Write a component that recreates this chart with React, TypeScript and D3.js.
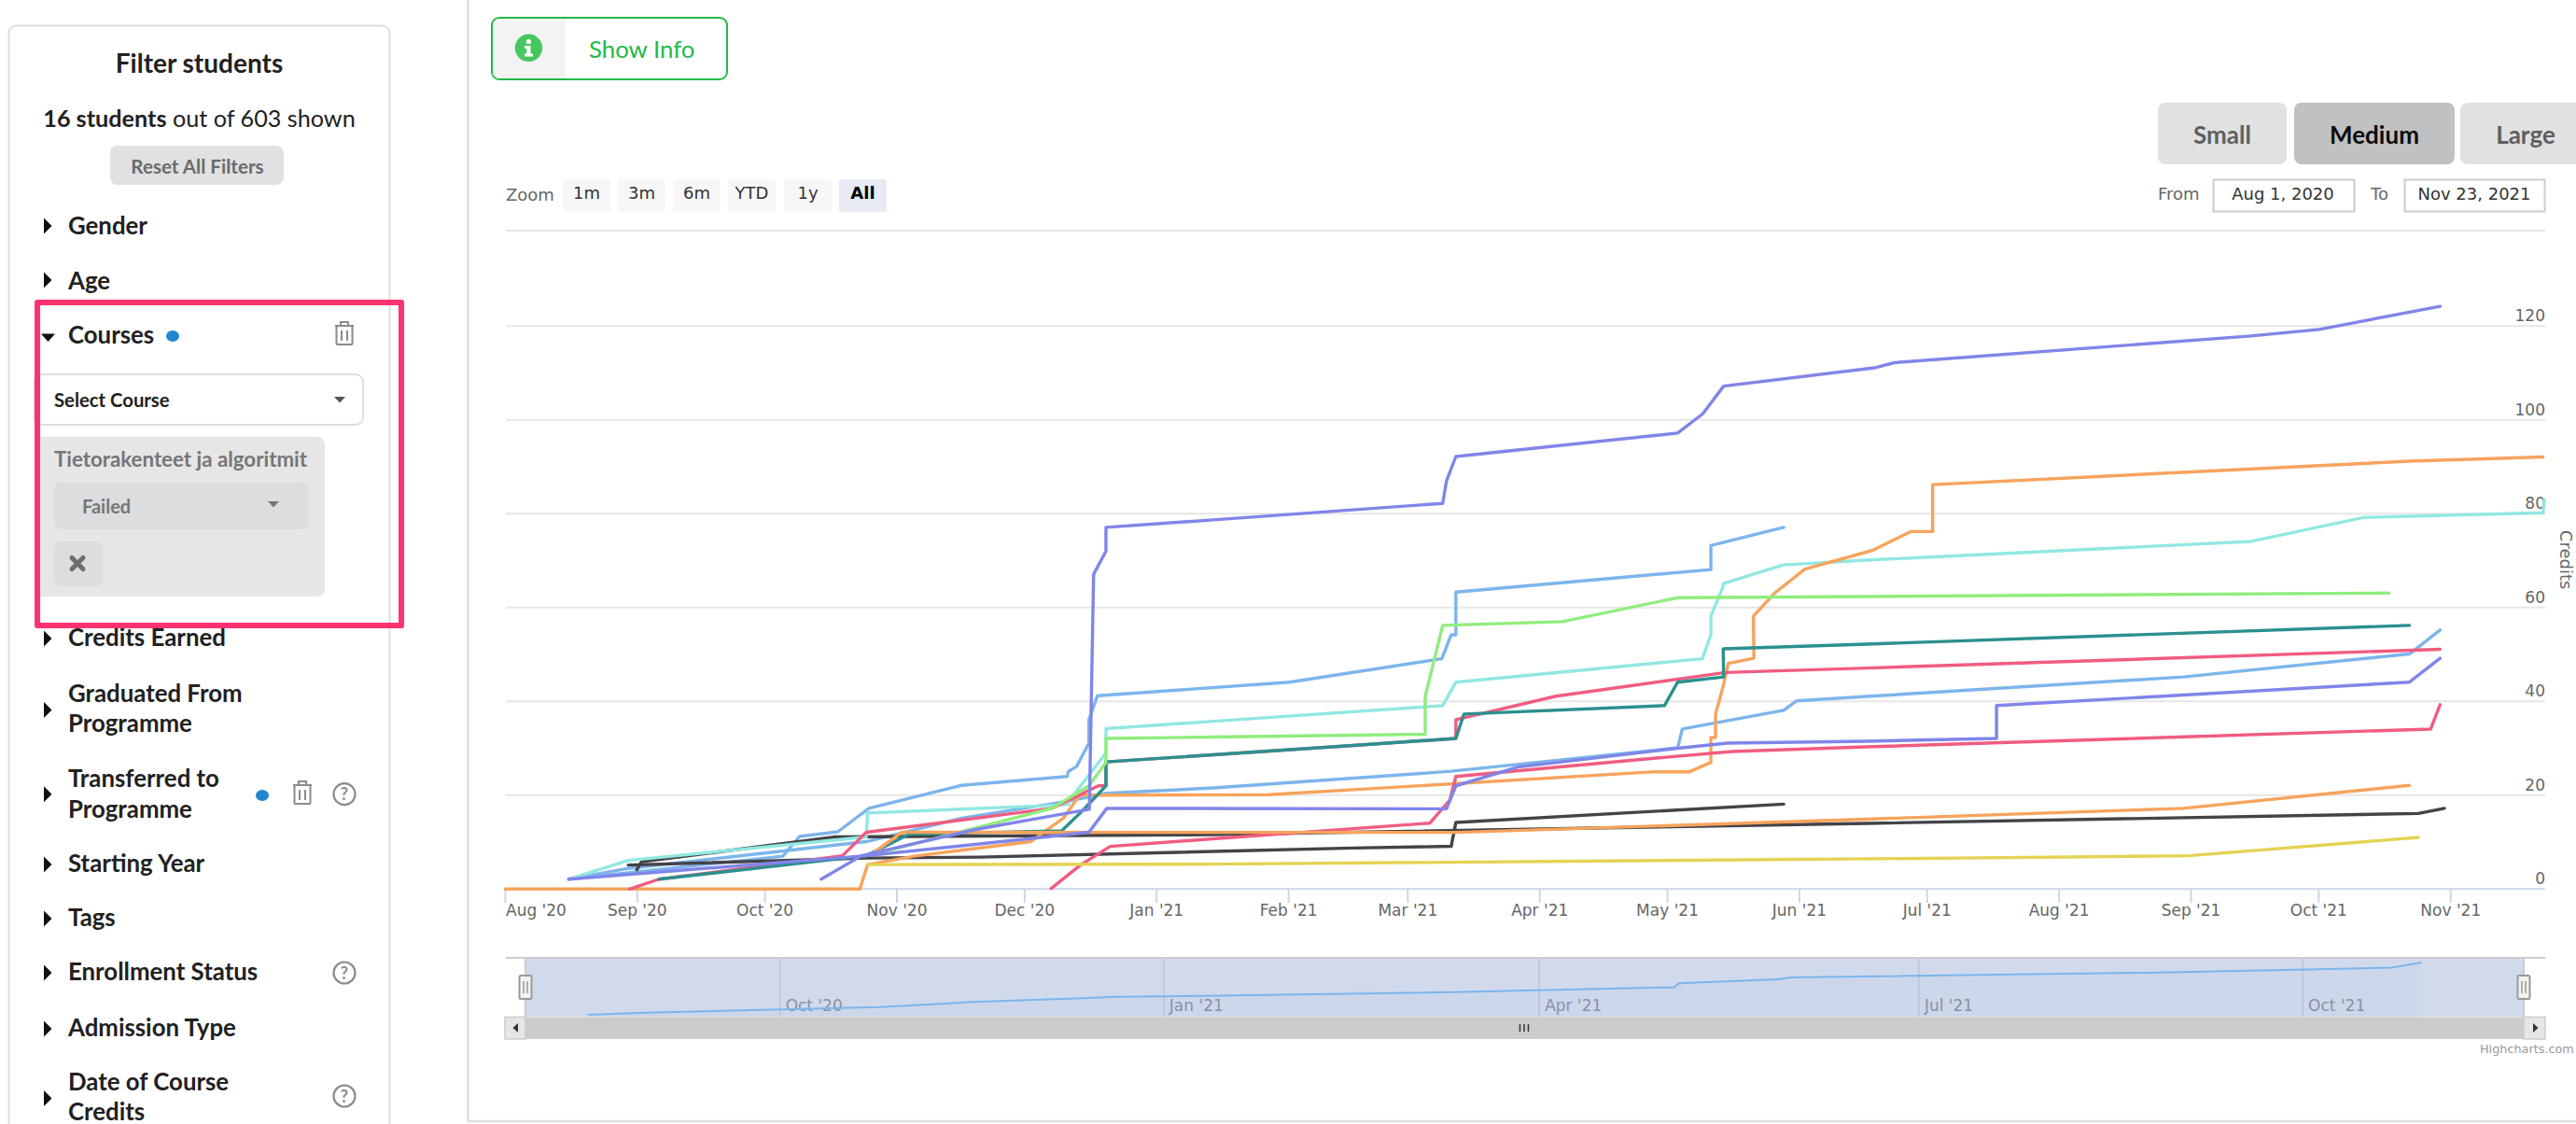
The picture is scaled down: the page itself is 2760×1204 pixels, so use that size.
import React from "react";
import * as d3 from "d3";

// ---- data: [days since 1 Aug 2020, credits] ----
type P = [number, number];
const purpleTop: P[] = [[74.2,2.1],[83.7,7.1],[110.5,12.7],[127.3,15.4],[137.2,17],[138.2,67.1],[141.1,72],[141.1,77.1],[166.3,78.7],[220.2,82.2],[221.1,87],[223.3,92.2],[275.4,97.2],[281.3,101.3],[286.2,107.2],[321.6,111.1],[326.3,112.2],[410.1,117.9],[426.1,119.3],[454.5,124.2]];
const purpleLow: P[] = [[14.9,2.1],[84.8,7.1],[122.8,10.7],[137.1,12.1],[141.3,17.2],[221.1,17.1],[223.3,22],[237.9,26],[275.4,30],[287.1,31.1],[319.8,31.5],[350.3,32.1],[350.3,39.1],[447.3,44.1],[454.5,49.2]];
const orangeTop: P[] = [[0,0],[83.3,0],[85.1,5.2],[96,7],[123.4,10.1],[131.1,15.1],[134.9,20],[179.3,20.1],[270.3,25],[278.2,25],[283.2,27],[283.2,32.3],[284.3,32.3],[284.3,37.3],[286.2,43.6],[287.3,48.1],[293.3,49.2],[293.2,58.2],[298.2,63.1],[305.3,68.2],[321.2,72.2],[330.2,76.2],[335.3,76.2],[335.3,86.2],[447.3,91.2],[478.7,92.1]];
const orangeLow: P[] = [[85.7,7.2],[93.2,12.1],[166.3,12.07],[223.3,12.07],[272.6,13.5],[319.8,14.9],[394.2,17.2],[447.3,22.1]];
const blueHigh: P[] = [[14.9,2.1],[65.2,7],[69.1,11.2],[78.1,12.2],[85.4,17.2],[107.2,22.1],[132,24],[132.3,25.1],[134.2,26.1],[137.1,31.1],[137.1,36.1],[139.1,41.2],[184.2,44.1],[220,49.1],[222.2,54.2],[223.3,54.2],[223.3,63.3],[283.2,68.1],[283.2,73.2],[300.3,77.1]];
const blueLow: P[] = [[14.9,2.1],[28.9,4.4],[84.8,10.1],[107.2,15.1],[132,18.7],[141.3,20.4],[166.3,21.55],[222.2,25.1],[275.4,30.1],[276.5,34.1],[300.3,38.1],[303.3,40.1],[319.8,41.05],[394.2,45.2],[447.3,50.1],[454.5,55.2]];
const aqua: P[] = [[14.9,2.1],[28.9,6.1],[84.8,11.1],[85.1,16.2],[125.1,17.7],[132.3,18],[132.3,18.7],[137.1,24.3],[141.1,29],[141.1,34.2],[166.3,35.75],[220.2,39.1],[223.3,44.1],[281.2,49.1],[283.2,54.2],[283.2,58.2],[286.1,64.5],[286.1,65.1],[300.2,69.1],[319.8,70.1],[410.1,74.1],[436.5,79.2],[478.7,80.2],[479,83]];
const green: P[] = [[86.5,7.4],[128.4,17.2],[137.1,22],[141.1,27],[141.1,32.1],[166.3,32.4],[216.1,33],[216.1,41.1],[220.2,56.2],[248.3,57],[275.4,62.1],[442.5,63.1]];
const teal: P[] = [[36.1,2.1],[84.8,7.1],[94.9,11.7],[130.7,12.4],[135.6,16.7],[141.1,22],[141.1,27.1],[199.2,30.6],[223.3,32.1],[225.2,37.3],[272.3,39.1],[275.4,44.1],[286.2,45.2],[286.1,51.2],[319.8,52.2],[447.3,56.2]];
const pinkHigh: P[] = [[29.2,0],[36.1,2.1],[79.2,7.1],[84.8,12.1],[128.4,17.2],[139.3,22],[141.1,22],[141.1,27.1],[199.2,30.6],[223.3,32.1],[223.3,36.1],[246.8,41.1],[286.2,46.1],[288.2,46.2],[319.8,47.1],[454.5,51.1]];
const pinkLow: P[] = [[128.2,0.1],[135.1,5.1],[142.1,9.1],[166.3,10.7],[217.2,14.05],[221.9,19],[223.3,24],[272.6,28.1],[288.2,29.3],[319.8,30.3],[452.3,34.1],[454.5,39.3]];
const darkLong: P[] = [[30.9,4.1],[32,5.8],[77.5,11.1],[166.3,11.6],[319.8,14],[449.4,16.1],[455.5,17.2]];
const darkShort: P[] = [[28.9,5.1],[84.8,6.6],[111.5,6.8],[199.2,8.75],[222.2,9.1],[223.3,14.2],[300.3,18.1]];
const yellow: P[] = [[85.1,5.2],[166.3,5.3],[341.7,6.6],[395.5,7.1],[449.4,11]];

const seriesColors = { blue: "#7cb5ec", dark: "#434348", green: "#90ed7d", orange: "#f7a35c", purple: "#8085e9", pink: "#f15c80", yellow: "#e4d354", teal: "#2b908f", aqua: "#91e8e1" };
const seriesList: [P[], string][] = [
  [blueHigh, seriesColors.blue], [blueLow, seriesColors.blue], [darkShort, seriesColors.dark], [darkLong, seriesColors.dark], [aqua, seriesColors.aqua],
  [orangeTop, seriesColors.orange], [pinkHigh, seriesColors.pink], [pinkLow, seriesColors.pink], [yellow, seriesColors.yellow], [teal, seriesColors.teal],
  [green, seriesColors.green], [orangeLow, seriesColors.orange], [purpleTop, seriesColors.purple], [purpleLow, seriesColors.purple],
];
const monthTicks = ["2020-08-01","2020-09-01","2020-10-01","2020-11-01","2020-12-01","2021-01-01","2021-02-01","2021-03-01","2021-04-01","2021-05-01","2021-06-01","2021-07-01","2021-08-01","2021-09-01","2021-10-01","2021-11-01"];
const navTicks = ["2020-10-01","2021-01-01","2021-04-01","2021-07-01","2021-10-01"];
const yTicks = [0, 20, 40, 60, 80, 100, 120];
const rangeButtons = ["1m", "3m", "6m", "YTD", "1y", "All"];
const sizeButtons = ["Small", "Medium", "Large"];

const LATO = "Lato, sans-serif";
const DJ = "'DejaVu Sans', sans-serif";
const start = Date.UTC(2020, 7, 1);
const end = Date.UTC(2021, 10, 23);
const dayToDate = (d: number) => new Date(start + d * 864e5);
const parse = (s: string) => new Date(s + "T00:00:00Z");
const fmt = d3.utcFormat("%b '%y");

const x = d3.scaleUtc().domain([start, end]).range([541.4, 2726.1]);
const y = d3.scaleLinear().domain([0, 120]).range([952.3, 349.3]);
const line = d3.line<P>().x((p) => x(dayToDate(p[0]))).y((p) => y(p[1]));
const xNav = d3.scaleUtc().domain([start, end]).range([563, 2704]);
const yNav = d3.scaleLinear().domain([0, 60]).range([1089.3, 1026]);
const navLine = d3.line<P>().x((p) => xNav(dayToDate(p[0]))).y((p) => yNav(p[1]));
const navArea = d3.area<P>().x((p) => xNav(dayToDate(p[0]))).y0(1089.3).y1((p) => yNav(p[1]));

function Arrow({ cy }: { cy: number }) {
  return <path d={`M47 ${cy - 8.5}L55.5 ${cy}L47 ${cy + 8.5}Z`} fill="#111" />;
}
function Help({ cy }: { cy: number }) {
  return (
    <g>
      <circle cx={369} cy={cy} r={11.5} fill="#fff" stroke="#8b8b8b" strokeWidth={2.2} />
      <text x={369} y={cy + 6.5} fontFamily={LATO} fontWeight={700} fontSize={18} fill="#8b8b8b" textAnchor="middle">?</text>
    </g>
  );
}
function Trash({ cx, cy }: { cx: number; cy: number }) {
  return (
    <g transform={`translate(${cx},${cy})`} fill="none" stroke="#8b8b8b" strokeWidth={2}>
      <path d="M-10 -8H10M-4 -8V-12H4V-8" />
      <rect x={-8.5} y={-8} width={17} height={20} rx={1} />
      <path d="M-3 -3V8M3 -3V8" />
    </g>
  );
}
const Dot = ({ cx, cy }: { cx: number; cy: number }) => <ellipse cx={cx} cy={cy} rx={7} ry={6} fill="#2185d0" />;
const Caret = ({ cx, cy, c }: { cx: number; cy: number; c: string }) => <path d={`M${cx - 6} ${cy - 3}H${cx + 6}L${cx} ${cy + 3.5}Z`} fill={c} />;
function Item({ lines, base, lh = 32 }: { lines: string[]; base: number; lh?: number }) {
  return (
    <text fontFamily={LATO} fontWeight={700} fontSize={25.8} fill="#212121">
      {lines.map((l, i) => <tspan key={l} x={73} y={base + i * lh}>{l}</tspan>)}
    </text>
  );
}

export default function App() {
  const hc = { fontFamily: DJ };
  return (
    <svg width={2760} height={1204} viewBox="0 0 2760 1204" style={{ position: "absolute", left: 0, top: 0, display: "block", background: "#fff" }}>
      {/* page frame */}
      <path d="M501.5 0V1201H2760" fill="none" stroke="#dedede" strokeWidth={2.5} />

      {/* sidebar */}
      <rect x={9.5} y={27.5} width={408} height={1240} rx={8} fill="#fff" stroke="#dedede" strokeWidth={2} />
      <text x={213.5} y={78} fontFamily={LATO} fontWeight={700} fontSize={28} fill="#212121" textAnchor="middle">Filter students</text>
      <text x={213.5} y={136} fontFamily={LATO} fontSize={25.2} fill="#212121" textAnchor="middle"><tspan fontWeight={700}>16 students</tspan> out of 603 shown</text>
      <rect x={118} y={156} width={186} height={42} rx={8} fill="#e0e1e2" />
      <text x={211.5} y={186} fontFamily={LATO} fontWeight={700} fontSize={20.6} fill="#6b6b6b" textAnchor="middle">Reset All Filters</text>

      <Arrow cy={242} /><Item lines={["Gender"]} base={250.5} />
      <Arrow cy={300} /><Item lines={["Age"]} base={310} />
      <path d="M44 357.5H59L51.5 366Z" fill="#111" />
      <Item lines={["Courses"]} base={368} />
      <Dot cx={185} cy={360} />
      <Trash cx={369} cy={357} />
      <rect x={37} y={401} width={352} height={54} rx={8} fill="#fff" stroke="#dedede" strokeWidth={2} />
      <text x={58} y={436} fontFamily={LATO} fontWeight={700} fontSize={20.3} fill="#212121">Select Course</text>
      <Caret cx={364} cy={428} c="#555" />
      <rect x={37} y={468} width={311} height={171} rx={8} fill="#e6e6e6" />
      <text x={58} y={500} fontFamily={LATO} fontWeight={700} fontSize={22.3} fill="#767676">Tietorakenteet ja algoritmit</text>
      <rect x={58} y={516.5} width={272} height={50.5} rx={8} fill="#dcddde" />
      <text x={88} y={550} fontFamily={LATO} fontWeight={700} fontSize={20} fill="#767676">Failed</text>
      <Caret cx={293} cy={540} c="#767676" />
      <rect x={58} y={580} width={52} height={48} rx={8} fill="#dcddde" />
      <path d="M77 597.5L89 609.5M89 597.5L77 609.5" stroke="#6e6e6e" strokeWidth={5} strokeLinecap="round" />

      <Arrow cy={684} /><Item lines={["Credits Earned"]} base={691.5} />
      <path d="M40 324H430V670H40Z" fill="none" stroke="#fe3270" strokeWidth={6} strokeLinejoin="round" />
      <Arrow cy={760.6} /><Item lines={["Graduated From", "Programme"]} base={751.5} />
      <Arrow cy={850.7} /><Item lines={["Transferred to", "Programme"]} base={842.5} lh={33} />
      <Dot cx={281} cy={852} /><Trash cx={324} cy={849} /><Help cy={850.7} />
      <Arrow cy={926} /><Item lines={["Starting Year"]} base={934} />
      <Arrow cy={984} /><Item lines={["Tags"]} base={992} />
      <Arrow cy={1042} /><Item lines={["Enrollment Status"]} base={1050} /><Help cy={1042} />
      <Arrow cy={1102} /><Item lines={["Admission Type"]} base={1110} />
      <Arrow cy={1176.5} /><Item lines={["Date of Course", "Credits"]} base={1167.7} /><Help cy={1174} />

      {/* show info */}
      <rect x={527} y={19} width={252} height={66} rx={8} fill="#fff" stroke="#21ba45" strokeWidth={2} />
      <path d="M528 27a7 7 0 0 1 7 -7H606V84H535a7 7 0 0 1 -7 -7Z" fill="#f3f3f3" />
      <circle cx={566.4} cy={51.3} r={14.7} fill="#48c660" />
      <circle cx={566.4} cy={44.5} r={2.6} fill="#fff" />
      <path d="M562 49H568.5V57.5H571V60.5H562V57.5H564.3V52H562Z" fill="#fff" />
      <text x={631} y={62} fontFamily={LATO} fontSize={25.8} fill="#21ba45">Show Info</text>

      {/* size buttons */}
      {sizeButtons.map((s, i) => {
        const bx = [2312, 2458, 2636][i], bw = [138, 172, 160][i];
        return (
          <g key={s}>
            <rect x={bx} y={110} width={bw} height={66} rx={8} fill={i === 1 ? "#c0c1c2" : "#e0e1e2"} />
            <text x={[2381, 2544, 2706][i]} y={154} fontFamily={LATO} fontWeight={700} fontSize={26} fill={i === 1 ? "#0d0d0d" : "#5f5f5f"} textAnchor="middle">{s}</text>
          </g>
        );
      })}

      {/* range selector */}
      <text x={542} y={215} {...hc} fontSize={18} fill="#666">Zoom</text>
      {rangeButtons.map((b, i) => {
        const bx = [603, 662, 721, 780, 840, 899][i];
        const sel = b === "All";
        return (
          <g key={b}>
            <rect x={bx} y={192} width={51} height={35} rx={3} fill={sel ? "#e6ebf5" : "#f7f7f7"} />
            <text x={bx + 25.5} y={213} {...hc} fontSize={18} fontWeight={sel ? 700 : 400} fill={sel ? "#000" : "#333"} textAnchor="middle">{b}</text>
          </g>
        );
      })}
      <text x={2312} y={214} {...hc} fontSize={18} fill="#666">From</text>
      <rect x={2371.5} y={192.5} width={151} height={34} fill="#fff" stroke="#ccc" strokeWidth={2} />
      <text x={2446} y={214} {...hc} fontSize={18} fill="#333" textAnchor="middle">Aug 1, 2020</text>
      <text x={2540} y={214} {...hc} fontSize={18} fill="#666">To</text>
      <rect x={2576.5} y={192.5} width={150} height={34} fill="#fff" stroke="#ccc" strokeWidth={2} />
      <text x={2651} y={214} {...hc} fontSize={18} fill="#333" textAnchor="middle">Nov 23, 2021</text>

      {/* grid + y axis */}
      <line x1={542} x2={2727} y1={247} y2={247} stroke="#e6e6e6" strokeWidth={2} />
      {yTicks.map((t) => (
        <g key={t}>
          <line x1={542} x2={2727} y1={y(t)} y2={y(t)} stroke={t === 0 ? "#ccd6eb" : "#e6e6e6"} strokeWidth={2} />
          <text x={2727} y={y(t) - 5} {...hc} fontSize={17} fill="#666" textAnchor="end">{t}</text>
        </g>
      ))}
      <text transform="translate(2743,599.6) rotate(90)" {...hc} fontSize={18} fill="#666" textAnchor="middle">Credits</text>

      {/* x axis */}
      {monthTicks.map((m, i) => {
        const d = parse(m);
        return (
          <g key={m}>
            <line x1={x(d)} x2={x(d)} y1={952.3} y2={967} stroke="#ccd6eb" strokeWidth={2} />
            <text x={i === 0 ? 542 : x(d)} y={981} {...hc} fontSize={17} fill="#666" textAnchor={i === 0 ? "start" : "middle"}>{fmt(d)}</text>
          </g>
        );
      })}

      {/* series */}
      {seriesList.map(([s, c], i) => (
        <path key={i} d={line(s) ?? ""} fill="none" stroke={c} strokeWidth={3.4} strokeLinejoin="round" strokeLinecap="round" />
      ))}

      {/* navigator */}
      <rect x={563} y={1026} width={2141} height={63.3} fill="#6685c2" fillOpacity={0.3} />
      <path d={navArea(blueLow) ?? ""} fill="#7cb5ec" fillOpacity={0.05} />
      {navTicks.map((m) => {
        const d = parse(m);
        return (
          <g key={m}>
            <line x1={xNav(d)} x2={xNav(d)} y1={1026} y2={1089} stroke="#b9c3d8" strokeWidth={1.5} />
            <text x={xNav(d) + 6} y={1083} {...hc} fontSize={17} fill="#8b90a0">{fmt(d)}</text>
          </g>
        );
      })}
      <path d={navLine(blueLow) ?? ""} fill="none" stroke="#7cb5ec" strokeWidth={2} />
      <line x1={542} x2={2727} y1={1026} y2={1026} stroke="#ccc" strokeWidth={2} />
      <line x1={563} x2={563} y1={1026} y2={1089} stroke="#ccc" strokeWidth={2} />
      <line x1={2704} x2={2704} y1={1026} y2={1089} stroke="#ccc" strokeWidth={2} />
      {[563, 2704].map((hx) => (
        <g key={hx}>
          <rect x={hx - 6.5} y={1045} width={13} height={25} rx={1.5} fill="#f2f2f2" stroke="#999" strokeWidth={2} />
          <path d={`M${hx - 2} 1051V1064M${hx + 2} 1051V1064`} stroke="#999" strokeWidth={1.5} />
        </g>
      ))}
      {/* scrollbar */}
      <rect x={541} y={1089.5} width={2186} height={23.5} fill="#ccc" />
      <rect x={541} y={1089.5} width={22} height={23.5} fill="#e6e6e6" stroke="#ccc" strokeWidth={1.5} />
      <rect x={2704} y={1089.5} width={23} height={23.5} fill="#e6e6e6" stroke="#ccc" strokeWidth={1.5} />
      <path d="M555 1096V1106L549.5 1101Z" fill="#333" />
      <path d="M2714 1096V1106L2719.5 1101Z" fill="#333" />
      <path d="M1628.5 1097V1105M1633 1097V1105M1637.5 1097V1105" stroke="#333" strokeWidth={1.5} />
      <text x={2657} y={1128} {...hc} fontSize={12.8} fill="#999">Highcharts.com</text>
    </svg>
  );
}
